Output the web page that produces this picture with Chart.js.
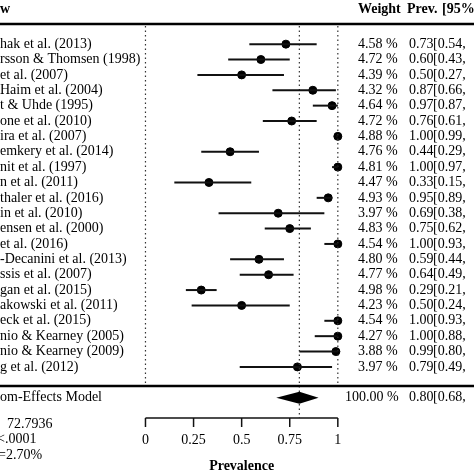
<!DOCTYPE html>
<html><head><meta charset="utf-8">
<script src="https://cdn.jsdelivr.net/npm/chart.js@4"></script>
<style>html,body{margin:0;padding:0;background:#fff}#c{width:474px;height:474px}</style>
</head><body><div id="c"><canvas id="forest"></canvas></div>
<script>
const studies=["hak et al. (2013)","rsson & Thomsen (1998)","et al. (2007)","Haim et al. (2004)","t & Uhde (1995)","one et al. (2010)","ira et al. (2007)","emkery et al. (2014)","nit et al. (1997)","n et al. (2011)","thaler et al. (2016)","in et al. (2010)","ensen et al. (2000)","et al. (2016)","-Decanini et al. (2013)","ssis et al. (2007)","gan et al. (2015)","akowski et al. (2011)","eck et al. (2015)","nio & Kearney (2005)","nio & Kearney (2009)","g et al. (2012)"];
const weights=[4.58,4.72,4.39,4.32,4.64,4.72,4.88,4.76,4.81,4.47,4.93,3.97,4.83,4.54,4.80,4.77,4.98,4.23,4.54,4.27,3.88,3.97];
const prev=[0.73,0.60,0.50,0.87,0.97,0.76,1.00,0.44,1.00,0.33,0.95,0.69,0.75,1.00,0.59,0.64,0.29,0.50,1.00,1.00,0.99,0.79];
const lower=[0.54,0.43,0.27,0.66,0.87,0.61,0.99,0.29,0.97,0.15,0.89,0.38,0.62,0.93,0.44,0.49,0.21,0.24,0.93,0.88,0.80,0.49];
const upper=[0.89,0.75,0.72,0.99,1.00,0.89,1.00,0.59,1.00,0.55,0.97,0.93,0.86,1.00,0.72,0.77,0.37,0.75,1.00,1.00,1.00,0.97];
const summary={est:0.80,lo:0.68,hi:0.90,weight:"100.00 %"};
const xTicks=[0,0.25,0.5,0.75,1];
const tickLabels=["0","0.25","0.5","0.75","1"];
const stats=["72.7936","<.0001","=2.70%"];

const SERIF='"Liberation Serif","DejaVu Serif",serif';

const forestPlugin={
id:"forest",
afterDatasetsDraw(chart){
const c=chart.ctx,x=chart.scales.x,y=chart.scales.y;
const X=v=>x.getPixelForValue(v),Y=v=>y.getPixelForValue(v);
const n=studies.length;
c.save();
// dotted reference lines
c.strokeStyle="#333";c.lineWidth=1.2;c.setLineDash([1.5,3]);
[[0,386],[summary.est,418],[1,386]].forEach(([v,b])=>{
c.beginPath();c.moveTo(X(v),26);c.lineTo(X(v),b);c.stroke();
});
c.setLineDash([]);
// header and separator lines
c.strokeStyle="#000";c.lineWidth=2.5;
c.beginPath();c.moveTo(0,24);c.lineTo(474,24);c.stroke();
c.beginPath();c.moveTo(0,386);c.lineTo(474,386);c.stroke();
// CI lines
c.strokeStyle="#111";c.lineWidth=2;
for(let i=0;i<n;i++){
c.beginPath();c.moveTo(X(lower[i]),Y(i));c.lineTo(X(upper[i]),Y(i));c.stroke();
}
// diamond
const ys=Y(n+1);
c.fillStyle="#000";c.beginPath();
c.moveTo(X(summary.lo),ys);c.lineTo(X(summary.est),ys-6);c.lineTo(X(summary.hi),ys);c.lineTo(X(summary.est),ys+6);c.closePath();c.fill();
// axis
c.lineWidth=1.5;
c.beginPath();c.moveTo(X(0),418);c.lineTo(X(1),418);c.stroke();
c.font="14px "+SERIF;c.textAlign="center";c.textBaseline="middle";
xTicks.forEach((t,i)=>{
c.beginPath();c.moveTo(X(t),418);c.lineTo(X(t),427);c.stroke();
c.fillText(tickLabels[i],X(t),440);
});
c.font="bold 14px "+SERIF;c.fillText("Prevalence",X(0.5),466);
// header text
c.textAlign="left";
c.fillText("w",0,9);
c.fillText("Weight",358,9);c.fillText("Prev.",407,9);c.fillText("[95%",442,9);
// rows
c.font="14px "+SERIF;
for(let i=0;i<n;i++){
const yy=Y(i);
c.fillText(studies[i],0,yy);
c.fillText(weights[i].toFixed(2)+" %",358,yy);
c.fillText(prev[i].toFixed(2),409,yy);
c.fillText("["+lower[i].toFixed(2)+",",433,yy);
}
c.fillText("om-Effects Model",0,ys);
c.fillText(summary.weight,345,ys);
c.fillText(summary.est.toFixed(2),409,ys);
c.fillText("["+summary.lo.toFixed(2)+",",433,ys);
c.fillText(stats[0],7,424);
c.fillText(stats[1],-3,439);
c.fillText(stats[2],-2,455);
c.restore();
}
};

const pxPerUnit=196.5,x0=143.5,rowH=15.7,y0=40;
new Chart(document.getElementById("forest"),{
type:"scatter",
data:{datasets:[{
data:prev.map((p,i)=>({x:p,y:i})),
pointRadius:4,pointHoverRadius:4,backgroundColor:"#000",borderColor:"#000"
}]},
options:{
responsive:true,maintainAspectRatio:false,animation:false,
layout:{padding:0},
plugins:{legend:{display:false},tooltip:{enabled:false}},
scales:{
x:{type:"linear",display:false,min:-x0/pxPerUnit,max:(474-x0)/pxPerUnit},
y:{type:"linear",display:false,reverse:true,min:-y0/rowH,max:(474-y0)/rowH}
}
},
plugins:[forestPlugin]
});
</script>
</body></html>
